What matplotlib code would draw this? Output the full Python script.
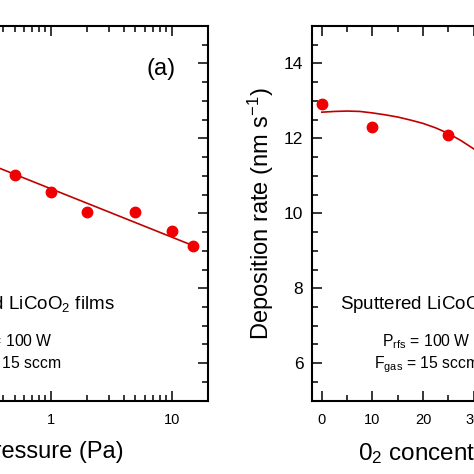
import matplotlib
matplotlib.use("Agg")
import matplotlib.pyplot as plt
from matplotlib.ticker import MultipleLocator, LogLocator, NullFormatter, FixedLocator, FixedFormatter

plt.rcParams['font.family'] = ['Liberation Sans', 'DejaVu Sans']
plt.rcParams['mathtext.fontset'] = 'custom'
plt.rcParams['mathtext.rm'] = 'Liberation Sans'
plt.rcParams['mathtext.it'] = 'Liberation Sans:italic'
plt.rcParams['mathtext.bf'] = 'Liberation Sans:bold'

# ---- data (a): deposition rate vs sputtering pressure ----
pressure = [0.5, 1, 2, 5, 10, 15]
rate_p = [11.02, 10.57, 10.03, 10.03, 9.52, 9.12]
fit_p = [0.05, 15]
fit_rate_p = [12.33, 9.14]

# ---- data (b): deposition rate vs O2 concentration ----
o2 = [0, 10, 25]
rate_o2 = [12.91, 12.31, 12.10]
fit_o2 = [0, 2.5, 5, 7.5, 10, 12.5, 15, 17.5, 20, 22.5, 25, 27.5, 30, 32.5, 35]
fit_rate_o2 = [12.70, 12.72, 12.73, 12.72, 12.68, 12.63, 12.57, 12.49, 12.40,
               12.28, 12.13, 11.94, 11.72, 11.47, 11.2]

W, H = 474, 474
fig = plt.figure(figsize=(4.74, 4.74), dpi=100)

pw = 314
bottom_px, top_px = 400.7, 26
ax1 = fig.add_axes([(208 - pw) / W, (H - bottom_px) / H, pw / W, (bottom_px - top_px) / H])
ax2 = fig.add_axes([311.7 / W, (H - bottom_px) / H, pw / W, (bottom_px - top_px) / H])

mcol = '#f00000'
lcol = '#c00000'

for ax in (ax1, ax2):
    for s in ax.spines.values():
        s.set_linewidth(1.5)
    ax.set_ylim(5, 15)
    ax.yaxis.set_major_locator(MultipleLocator(2))
    ax.yaxis.set_minor_locator(MultipleLocator(0.5))
    ax.tick_params(which='both', direction='in', top=True, right=True, width=1.1)
    ax.tick_params(which='major', length=7)
    ax.tick_params(which='minor', length=4)
    ax.tick_params(axis='y', labelsize=12.5, pad=6)
    ax.tick_params(axis='x', labelsize=10.5, pad=9)
    ax.set_ylabel('Deposition rate (nm s$^{-1}$)', fontsize=17, labelpad=6)
    ax.text(0.090, 0.244, 'Sputtered LiCoO$_2$ films', transform=ax.transAxes,
            fontsize=13.5, ha='left', va='baseline')
    ax.text(0.3655, 0.144, 'P$_{\\mathrm{rfs}}$ = 100 W', transform=ax.transAxes,
            fontsize=11.3, ha='center', va='baseline')
    ax.text(0.3655, 0.0865, 'F$_{\\mathrm{gas}}$ = 15 sccm', transform=ax.transAxes,
            fontsize=11.3, ha='center', va='baseline')

# panel (a)
ax1.set_xscale('log')
ax1.set_xlim(0.05, 20)
ax1.xaxis.set_major_locator(FixedLocator([0.1, 1, 10]))
ax1.xaxis.set_major_formatter(FixedFormatter(['0.1', '1', '10']))
ax1.xaxis.set_minor_locator(LogLocator(base=10, subs=range(2, 10)))
ax1.xaxis.set_minor_formatter(NullFormatter())
ax1.plot(fit_p, fit_rate_p, color=lcol, lw=1.2, zorder=2)
ax1.plot(pressure, rate_p, 'o', color=mcol, ms=7.5, zorder=3)
ax1.set_xlabel('Pressure (Pa)', fontsize=17)
ax1.xaxis.set_label_coords(0.5, -0.108)
ax1.text(0.850, 0.885, '(a)', transform=ax1.transAxes, fontsize=17, ha='center', va='center')

# panel (b)
ax2.set_xlim(-2, 60)
ax2.xaxis.set_major_locator(MultipleLocator(10))
ax2.xaxis.set_minor_locator(MultipleLocator(5))
ax2.plot(fit_o2, fit_rate_o2, color=lcol, lw=1.2, zorder=2)
ax2.plot(o2, rate_o2, 'o', color=mcol, ms=7.5, zorder=3)
ax2.set_xlabel('0$_2$ concentration (%)', fontsize=17.5)
ax2.xaxis.set_label_coords(0.5, -0.108)
ax2.text(0.850, 0.885, '(b)', transform=ax2.transAxes, fontsize=17, ha='center', va='center')

fig.savefig('out.png', dpi=100)
